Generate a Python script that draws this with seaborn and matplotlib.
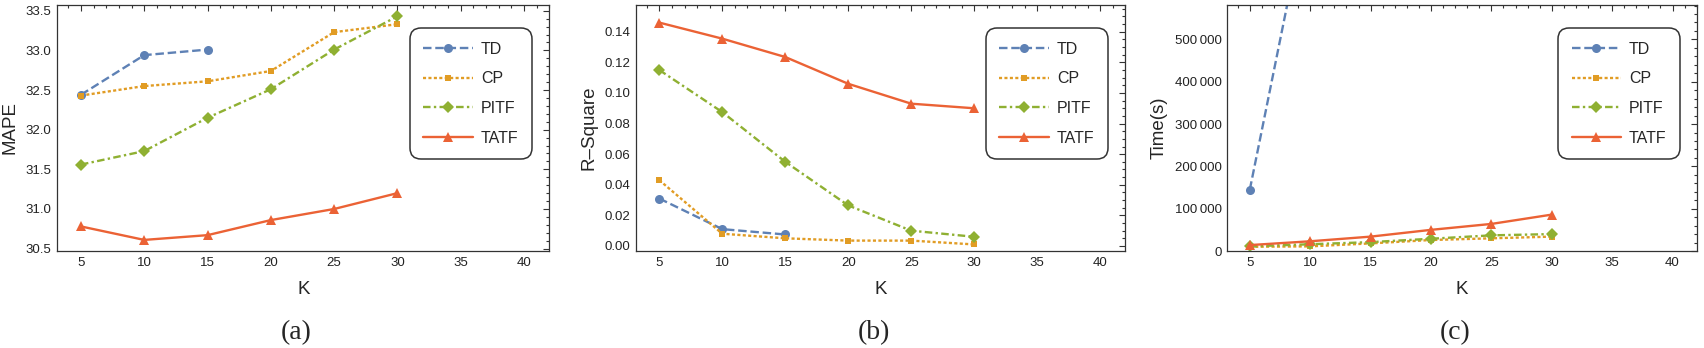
import numpy as np
import pandas as pd
import matplotlib
matplotlib.use('Agg')
import matplotlib.pyplot as plt
from matplotlib.ticker import MultipleLocator, FuncFormatter
import seaborn as sns

# ========================================
# Данные
# ========================================
K = [5, 10, 15, 20, 25, 30]
K_TD = [5, 10, 15]
METHODS = ['TD', 'CP', 'PITF', 'TATF']

mape_td = [32.44, 32.94, 33.01]
mape_cp = [32.43, 32.55, 32.61, 32.74, 33.23, 33.33]
mape_pitf = [31.56, 31.73, 32.15, 32.51, 33.01, 33.43]
mape_tatf = [30.78, 30.61, 30.67, 30.86, 31.00, 31.20]

r2_td = [0.031, 0.011, 0.0075]
r2_cp = [0.043, 0.008, 0.005, 0.0035, 0.0035, 0.001]
r2_pitf = [0.115, 0.0875, 0.055, 0.0265, 0.010, 0.006]
r2_tatf = [0.146, 0.1355, 0.1235, 0.106, 0.093, 0.090]

time_td = [145000, 850000, 1500000]
time_cp = [10000, 11000, 18000, 26000, 30000, 34000]
time_pitf = [11000, 16000, 21000, 29000, 37000, 40000]
time_tatf = [14000, 23000, 34000, 50000, 64000, 86000]

# Стиль Mathematica
PALETTE = {'TD': '#5E81B5', 'CP': '#E19C24', 'PITF': '#8FB032', 'TATF': '#EB6235'}
MARKERS = {'TD': 'o', 'CP': 's', 'PITF': 'D', 'TATF': '^'}
MARKER_SIZES = {'TD': 6.5, 'CP': 5, 'PITF': 6, 'TATF': 6.5}
DASHES = {'TD': (3.6, 1.6), 'CP': (1.3, 1.0), 'PITF': (3.2, 1.4, 1.0, 1.4), 'TATF': ''}

sns.set_style('white')
plt.rcParams['font.family'] = ['Liberation Sans', 'DejaVu Sans']


def to_long(td, cp, pitf, tatf):
    frames = []
    for name, xs, ys in [('TD', K_TD, td), ('CP', K, cp), ('PITF', K, pitf), ('TATF', K, tatf)]:
        frames.append(pd.DataFrame({'K': xs, 'value': ys, 'method': name}))
    return pd.concat(frames, ignore_index=True)


def thin_sep(v, pos):
    return f"{int(round(v)):,}".replace(',', '\u2009')


PANELS = [
    dict(df=to_long(mape_td, mape_cp, mape_pitf, mape_tatf), ylabel='MAPE',
         ylim=(30.47, 33.576), major=0.5, minor=0.1, fmt='{:.1f}',
         rect=[0.0336, 0.2787, 0.2888, 0.7078], caption='(a)'),
    dict(df=to_long(r2_td, r2_cp, r2_pitf, r2_tatf), ylabel='R\u2013Square',
         ylim=(-0.0033, 0.1577), major=0.02, minor=0.005, fmt='{:.2f}',
         rect=[0.3731, 0.2787, 0.2873, 0.7078], caption='(b)'),
    dict(df=to_long(time_td, time_cp, time_pitf, time_tatf), ylabel='Time(s)',
         ylim=(0, 582000), major=100000, minor=20000, fmt=None,
         rect=[0.7202, 0.2787, 0.2755, 0.7078], caption='(c)'),
]

fig = plt.figure(figsize=(17.04, 3.48), dpi=100)

for p in PANELS:
    ax = fig.add_axes(p['rect'])
    for m in METHODS:
        sub = p['df'][p['df']['method'] == m]
        sns.lineplot(data=sub, x='K', y='value', color=PALETTE[m], marker=MARKERS[m],
                     markersize=MARKER_SIZES[m], markeredgewidth=0, linewidth=1.7,
                     label=m, ax=ax, legend=False)
    for line, m in zip(ax.get_lines(), METHODS):
        if DASHES[m]:
            line.set_dashes(DASHES[m])
        else:
            line.set_linestyle('-')
        line.set_label(m)

    ax.set_xlim(3.13, 42.0)
    ax.set_ylim(*p['ylim'])
    ax.xaxis.set_major_locator(MultipleLocator(5))
    ax.xaxis.set_minor_locator(MultipleLocator(1))
    ax.yaxis.set_major_locator(MultipleLocator(p['major']))
    ax.yaxis.set_minor_locator(MultipleLocator(p['minor']))
    if p['fmt'] is None:
        ax.yaxis.set_major_formatter(FuncFormatter(thin_sep))
    else:
        ax.yaxis.set_major_formatter(FuncFormatter(lambda v, pos, f=p['fmt']: f.format(v)))
    ax.set_xticks([5, 10, 15, 20, 25, 30, 35, 40])

    ax.tick_params(which='both', direction='in', top=True, right=True, color='#333333',
                   labelsize=9.5, labelcolor='#222222', width=0.8)
    ax.tick_params(which='major', length=4.5, pad=4)
    ax.tick_params(which='minor', length=2.3)
    for s in ax.spines.values():
        s.set_color('#333333')
        s.set_linewidth(0.9)

    ax.set_xlabel('K', fontsize=13.5, labelpad=9)
    ax.set_ylabel(p['ylabel'], fontsize=13.5, labelpad=5)

    leg = ax.legend(loc='upper right', bbox_to_anchor=(0.965, 0.905), fontsize=11.5,
                    handlelength=3.1, labelspacing=0.92, borderpad=0.85,
                    handletextpad=0.5, frameon=True, fancybox=True, borderaxespad=0)
    frame = leg.get_frame()
    frame.set_edgecolor('black')
    frame.set_linewidth(1.1)
    frame.set_boxstyle('round,pad=0,rounding_size=0.7')

    r = p['rect']
    fig.text(r[0] + r[2] / 2 - 0.004, 0.045, p['caption'], ha='center', va='center',
             fontsize=20, family=['Liberation Serif', 'DejaVu Serif'])

fig.savefig('out.png', dpi=100)
